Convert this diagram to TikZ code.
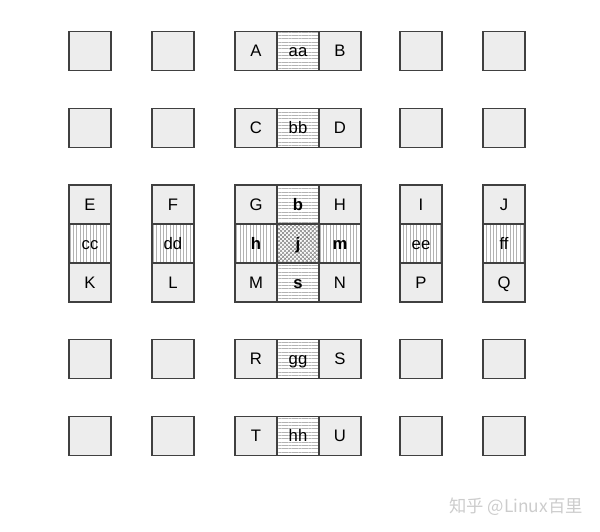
\documentclass[tikz,border=0pt]{standalone}
\usepackage{fontspec}
\setmainfont{Liberation Sans}
\newfontfamily\cjkfont{Noto Sans CJK SC}
\usetikzlibrary{positioning, patterns.meta}

\begin{document}
\begin{tikzpicture}[
    node distance=31.5pt,
    cell/.style={draw=black!75, line width=0.9pt, fill=black!7, minimum width=31.5pt,
        minimum height=29.25pt, inner sep=0pt, text height=9pt, text depth=0pt,
        font=\fontsize{12.5}{14}\selectfont},
    hcell/.style={cell, fill=white, pattern={Lines[angle=0, distance=2.5pt, line width=0.4pt]}, pattern color=black!30},
    vcell/.style={cell, fill=white, pattern={Lines[angle=90, distance=2.5pt, line width=0.4pt]}, pattern color=black!30},
    xcell/.style={cell, fill=white, pattern={Hatch[angle=45, distance=2.1pt, line width=0.45pt]}, pattern color=black!45}
]
    \useasboundingbox (0,0) rectangle (450pt,-399pt);

    % Centre cross
    \node[xcell] (j) at (223.5pt,-182.6pt) {\textbf{j}};
    \node[hcell, above of=j, node distance=29.25pt] (b) {\textbf{b}};
    \node[hcell, below of=j, node distance=29.25pt] (s) {\textbf{s}};
    \node[vcell, left of=j] (h) {\textbf{h}};
    \node[vcell, right of=j] (m) {\textbf{m}};
    \node[cell, left of=b] (G) {G};
    \node[cell, right of=b] (H) {H};
    \node[cell, left of=s] (M) {M};
    \node[cell, right of=s] (N) {N};

    % Upper column
    \node[hcell, above of=b, node distance=57.5pt] (bb) {bb};
    \node[hcell, above of=bb, node distance=57.75pt] (aa) {aa};
    \node[cell, left of=bb] (C) {C};
    \node[cell, right of=bb] (D) {D};
    \node[cell, left of=aa] (A) {A};
    \node[cell, right of=aa] (B) {B};

    % Lower column
    \node[hcell, below of=s, node distance=57.25pt] (gg) {gg};
    \node[hcell, below of=gg, node distance=57.75pt] (hh) {hh};
    \node[cell, left of=gg] (R) {R};
    \node[cell, right of=gg] (S) {S};
    \node[cell, left of=hh] (T) {T};
    \node[cell, right of=hh] (U) {U};

    % Left row
    \node[vcell, left of=h, node distance=62.25pt] (dd) {dd};
    \node[vcell, left of=dd, node distance=62.25pt] (cc) {cc};
    \node[cell, above of=dd, node distance=29.25pt] (F) {F};
    \node[cell, below of=dd, node distance=29.25pt] (L) {L};
    \node[cell, above of=cc, node distance=29.25pt] (E) {E};
    \node[cell, below of=cc, node distance=29.25pt] (K) {K};

    % Right row
    \node[vcell, right of=m, node distance=60.75pt] (ee) {ee};
    \node[vcell, right of=ee, node distance=62.25pt] (ff) {ff};
    \node[cell, above of=ee, node distance=29.25pt] (I) {I};
    \node[cell, below of=ee, node distance=29.25pt] (P) {P};
    \node[cell, above of=ff, node distance=29.25pt] (J) {J};
    \node[cell, below of=ff, node distance=29.25pt] (Q) {Q};

    % Empty squares
    \foreach \r in {A, C, R, T} {
        \node[cell, left of=\r, node distance=62.25pt] (\r-l) {};
        \node[cell, left of=\r-l, node distance=62.25pt] (\r-ll) {};
    }
    \foreach \r in {B, D, S, U} {
        \node[cell, right of=\r, node distance=60.75pt] (\r-r) {};
        \node[cell, right of=\r-r, node distance=62.25pt] (\r-rr) {};
    }

    % Watermark
    \node[text=black!20, font=\cjkfont\fontsize{13}{15}\selectfont] (mark) at (387pt,-380pt) {知乎 @Linux百里};
\end{tikzpicture}
\end{document}
